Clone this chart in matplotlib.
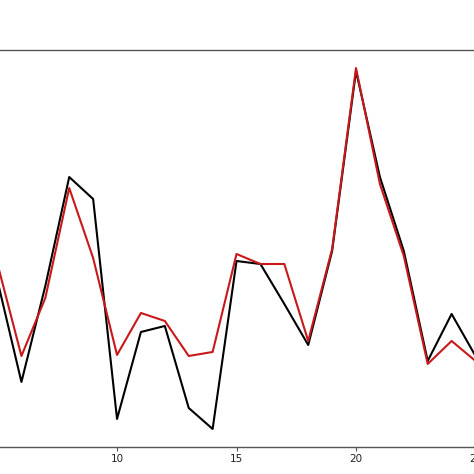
import matplotlib.pyplot as plt
import numpy as np

# valores
x = np.arange(5, 26)
black = [17.0, 6.9, 16.5, 27.4, 25.2, 3.2, 11.9, 12.5, 4.3, 2.2, 19.0,
         18.7, 14.7, 10.6, 20.0, 38.0, 27.4, 20.0, 9.0, 13.7, 9.5]
red = [18.7, 9.5, 15.3, 26.3, 19.3, 9.6, 13.8, 13.0, 9.5, 9.9, 19.7,
       18.7, 18.7, 11.0, 20.2, 38.3, 26.7, 19.5, 8.7, 11.0, 9.0]
xticks = [10, 15, 20, 25]

fig = plt.figure(figsize=(4.74, 4.74), dpi=100)
# el eje se sale de la figura por izquierda y derecha (recorte)
ax = fig.add_axes([-0.1, 27 / 474, 1.2, 397 / 474])

ax.plot(x, black, color='black', linewidth=1.5)
ax.plot(x, red, color='#c8181a', linewidth=1.5)

ax.set_xlim(3.12, 26.92)
ax.set_xticks(xticks)
ax.set_yticks([])
ax.tick_params(axis='x', labelsize=7.5, length=3, color='#555555', labelcolor='#222222', pad=2)
for s in ax.spines.values():
    s.set_color('#555555')
    s.set_linewidth(1.0)

fig.savefig('out.png', dpi=100)
